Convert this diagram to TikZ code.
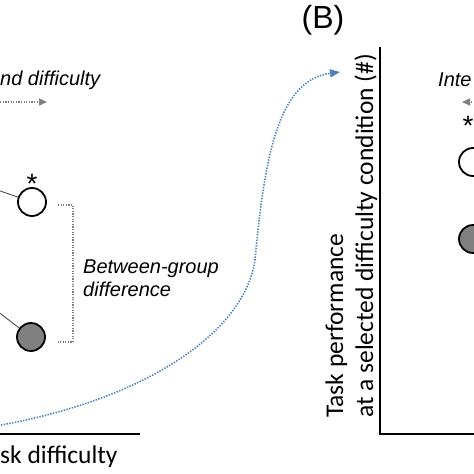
\documentclass[tikz,border=0pt]{standalone}
\usepackage{fontspec}
\setmainfont{Liberation Sans}
\newfontfamily\axisfont{Carlito}
\usepackage{xcolor}
\usetikzlibrary{arrows.meta,positioning}
\definecolor{dotgray}{RGB}{128,128,128}
\definecolor{fillgray}{RGB}{128,128,128}
\definecolor{curveblue}{RGB}{78,128,189}

\begin{document}
\begin{tikzpicture}[x=1pt, y=-1pt,
    group/.style={circle, draw, line width=1.8pt, minimum size=28pt, inner sep=0pt},
    link/.style={draw=black!70, line width=0.9pt},
    hint/.style={dotgray, line width=1.4pt, dash pattern=on 1.2pt off 1.4pt, -{Triangle[length=8pt,width=7pt]}},
    bracket/.style={dotgray, line width=1.4pt, dash pattern=on 1.2pt off 1.4pt},
    flow/.style={curveblue, line width=1.6pt, dash pattern=on 1.4pt off 1.4pt, -{Triangle[length=10pt,width=8pt]}},
    note/.style={font=\fontsize{20}{23}\selectfont\itshape, inner sep=0pt},
    star/.style={font=\fontsize{28}{28}\selectfont, inner sep=0pt, anchor=base},
    axlabel/.style={font=\axisfont\fontsize{25.5}{30}\selectfont, inner sep=0pt},
    axis/.style={line width=2.4pt}
]
    \useasboundingbox (0,0) rectangle (474,474);
    \clip (0,0) rectangle (474,474);

    \node[note, anchor=base west] (demandL) at (0,85) {nd difficulty};
    \node[note, anchor=base west] (demandR) at (438,86) {Inte};
    \node[font=\fontsize{32}{32}\selectfont, anchor=base, inner sep=0pt] (panelB) at (323,28) {(B)};

    \node[group, fill=white] (leftHigh) at (32,202) {};
    \node[group, fill=fillgray] (leftLow) at (31,337) {};
    \node[group, fill=white] (rightHigh) at (473,162) {};
    \node[group, fill=fillgray] (rightLow) at (473,239) {};
    \node[star] (starL) at (32,193) {*};
    \node[star] (starR) at (468,135) {*};

    \node[note, anchor=north west, align=left] (diff) at (83,260) {Between-group\\difference};

    \node[axlabel, anchor=base west] (xlab) at (0,463) {sk difficulty};
    \node[axlabel, rotate=90, anchor=base west] (ylabA) at (343,418) {Task performance};
    \node[axlabel, rotate=90, anchor=base west] (ylabB) at (373,418) {at a selected difficulty condition (\#)};

    \draw[axis] (-5,434) -- (140,434);
    \draw[axis] (380,47) -- (380,434) -- (480,434);

    \coordinate (prevHigh) at (-20,184);
    \coordinate (prevLow) at (-20,298);
    \draw[link] (prevHigh) -- (leftHigh);
    \draw[link] (prevLow) -- (leftLow);

    \draw[bracket] ([shift={(11,3)}]leftHigh.east) -- ++(15,0) |- ([shift={(12,5)}]leftLow.east);

    \coordinate (hintLa) at (-5,102);
    \coordinate (hintLb) at (47,102);
    \coordinate (hintRa) at (480,102);
    \coordinate (hintRb) at (462,102);
    \draw[hint] (hintLa) -- (hintLb);
    \draw[hint] (hintRa) -- (hintRb);

    \coordinate (flowStart) at (-10,427);
    \coordinate (flowEnd) at (340,72);
    \draw[flow] (flowStart) .. controls (150,400) and (245,330) .. (255,260)
        .. controls (265,150) and (280,80) .. (flowEnd);
\end{tikzpicture}
\end{document}
